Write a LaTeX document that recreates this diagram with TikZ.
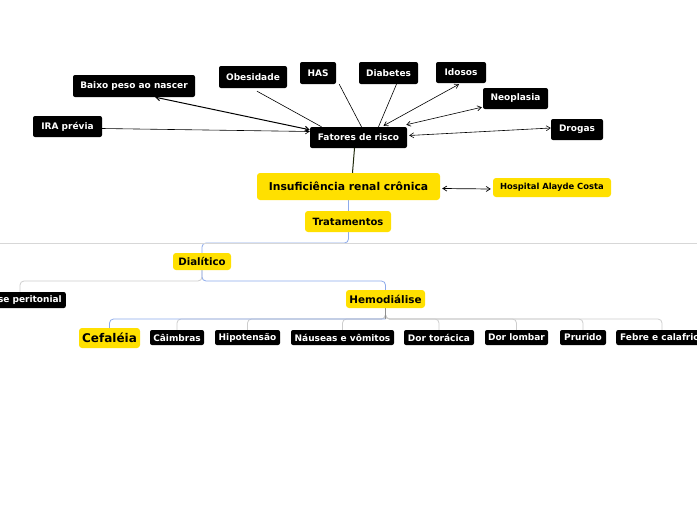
\documentclass[tikz,border=0pt]{standalone}
\usepackage{fontspec}
\setmainfont{DejaVu Sans}
\usetikzlibrary{arrows.meta,backgrounds}
\definecolor{mmyellow}{RGB}{255,224,0}
\definecolor{mmblue}{RGB}{140,170,235}
\definecolor{mmgray}{RGB}{205,205,205}
\definecolor{mmsep}{RGB}{215,215,215}
\definecolor{mmolive}{RGB}{30,40,10}
\tikzset{
  blk/.style={fill=black, text=white, rounded corners=2pt, font=\bfseries\fontsize{9}{10}\selectfont,
    inner xsep=2pt, inner ysep=0pt, minimum height=21pt},
  blksm/.style={blk, minimum height=15pt},
  ylw/.style={fill=mmyellow, text=black, rounded corners=3pt, inner xsep=2pt, inner ysep=0pt},
  link/.style={draw=black, line width=0.6pt},
  tip/.style={-{Straight Barb[length=4pt,width=5pt]}},
  tips/.style={{Straight Barb[length=4pt,width=5pt]}-{Straight Barb[length=4pt,width=5pt]}},
  bline/.style={draw=mmblue, line width=0.8pt, rounded corners=4pt},
  gline/.style={draw=mmgray, line width=0.8pt, rounded corners=4pt},
}
\begin{document}
\begin{tikzpicture}[x=1pt,y=-1pt]
\useasboundingbox (0,0) rectangle (697,520);
% separator
\coordinate (sepL) at (0,243);
\coordinate (sepR) at (697,243);
\draw[mmsep, line width=0.6pt] (sepL) -- (sepR);
% top nodes
\node[blk, minimum width=122pt, minimum height=22pt] (baixo) at (134,86) {Baixo peso ao nascer};
\node[blk, minimum width=68pt, minimum height=22pt] (obes) at (253,77) {Obesidade};
\node[blk, minimum width=36pt, minimum height=22pt] (has) at (318,73) {HAS};
\node[blk, minimum width=59pt, minimum height=22pt] (diab) at (388.5,73) {Diabetes};
\node[blk, minimum width=50pt] (idos) at (461,72.5) {Idosos};
\node[blk, minimum width=65pt] (neo) at (515.5,98.5) {Neoplasia};
\node[blk, minimum width=69pt] (ira) at (67.5,126.5) {IRA prévia};
\node[blk, minimum width=97pt] (fat) at (358.5,137.5) {Fatores de risco};
\node[blk, minimum width=52pt] (drog) at (577,129.5) {Drogas};
\node[ylw, minimum width=183pt, minimum height=27pt, font=\bfseries\fontsize{10.8}{12}\selectfont] (ins) at (348.5,186.5) {Insuficiência renal crônica};
\node[ylw, minimum width=118pt, minimum height=19pt, font=\bfseries\fontsize{8.4}{10}\selectfont] (hosp) at (552,187.5) {Hospital Alayde Costa};
\node[ylw, minimum width=86pt, minimum height=21pt, font=\bfseries\fontsize{10}{12}\selectfont] (trat) at (348,221.5) {Tratamentos};
\node[ylw, minimum width=58pt, minimum height=17pt, font=\bfseries\fontsize{10.2}{12}\selectfont] (dial) at (202,261.5) {Dialítico};
\node[blk, minimum height=16pt, inner xsep=4pt, anchor=east] (peri) at (66,300) {Diálise peritonial};
\node[ylw, minimum width=79pt, minimum height=18pt, font=\bfseries\fontsize{10.4}{12}\selectfont] (hemo) at (385.5,299) {Hemodiálise};
\node[ylw, minimum width=61pt, minimum height=20pt, font=\bfseries\fontsize{12}{14}\selectfont] (cef) at (109.5,338) {Cefaléia};
\node[blksm, minimum width=54pt] (caim) at (177,337.5) {Câimbras};
\node[blksm, minimum width=65pt] (hipo) at (247.5,337.5) {Hipotensão};
\node[blksm, minimum width=103pt] (naus) at (342.5,337.5) {Náuseas e vômitos};
\node[blksm, minimum width=70pt] (dort) at (439,337.5) {Dor torácica};
\node[blksm, minimum width=63pt] (dorl) at (516.5,337.5) {Dor lombar};
\node[blksm, minimum width=46pt] (prur) at (583,337.5) {Prurido};
\node[blksm, inner xsep=4pt, anchor=west] (febr) at (616,337.5) {Febre e calafrios};
% junction levels
\coordinate (j1) at (0,243);
\coordinate (j2) at (0,281);
\coordinate (j3) at (0,319);
\coordinate (pcol) at (20,0);
\coordinate (fcol) at (662,0);
\begin{scope}[on background layer]
\draw[bline] (ins.south) -- (ins.south |- j1) -| (dial.north);
\draw[gline] (dial.south) -- (dial.south |- j2) -| (pcol |- peri.north);
\draw[bline] (dial.south) -- (dial.south |- j2) -| (hemo.north);
\foreach \c in {caim,hipo,naus,dort,dorl,prur}{
  \draw[gline] (hemo.south) -- (hemo.south |- j3) -| (\c.north);
}
\draw[gline] (hemo.south) -- (hemo.south |- j3) -| (fcol |- febr.north);
\draw[bline] (hemo.south |- j3) -| (cef.north);
\draw[draw=mmgray!70!black, line width=0.8pt] (hemo.south) -- (hemo.south |- j3);
\end{scope}
% top connectors
\draw[link, tips, line width=1pt] ([yshift=-3pt]fat.north west) -- ([xshift=-40pt]baixo.south east);
\draw[link, tip] ([yshift=-2pt]ira.east) -- ([yshift=6pt]fat.west);
\draw[link] ([xshift=4pt,yshift=-3pt]obes.south) -- ([xshift=-37pt]fat.north);
\draw[link] ([xshift=3pt]has.south east) -- ([xshift=3pt]fat.north);
\draw[link] ([xshift=8pt]diab.south) -- ([xshift=20pt]fat.north);
\draw[link, tips] ([xshift=-2pt,yshift=-1pt]idos.south) -- ([xshift=25pt,yshift=1pt]fat.north);
\draw[link, tips] ([xshift=-1pt,yshift=2pt]neo.south west) -- ([xshift=-1pt,yshift=2pt]fat.north east);
\draw[link, tips] ([yshift=1.5pt]drog.west) -- ([xshift=2pt,yshift=2pt]fat.east);
\draw[draw=mmolive, line width=1pt] ([xshift=-4pt]fat.south) -- ([xshift=4pt]ins.north);
\draw[link, tips, line width=0.7pt] ([xshift=2pt,yshift=-2pt]ins.east) -- ([xshift=-2pt,yshift=-1.5pt]hosp.west);
\end{tikzpicture}
\end{document}
